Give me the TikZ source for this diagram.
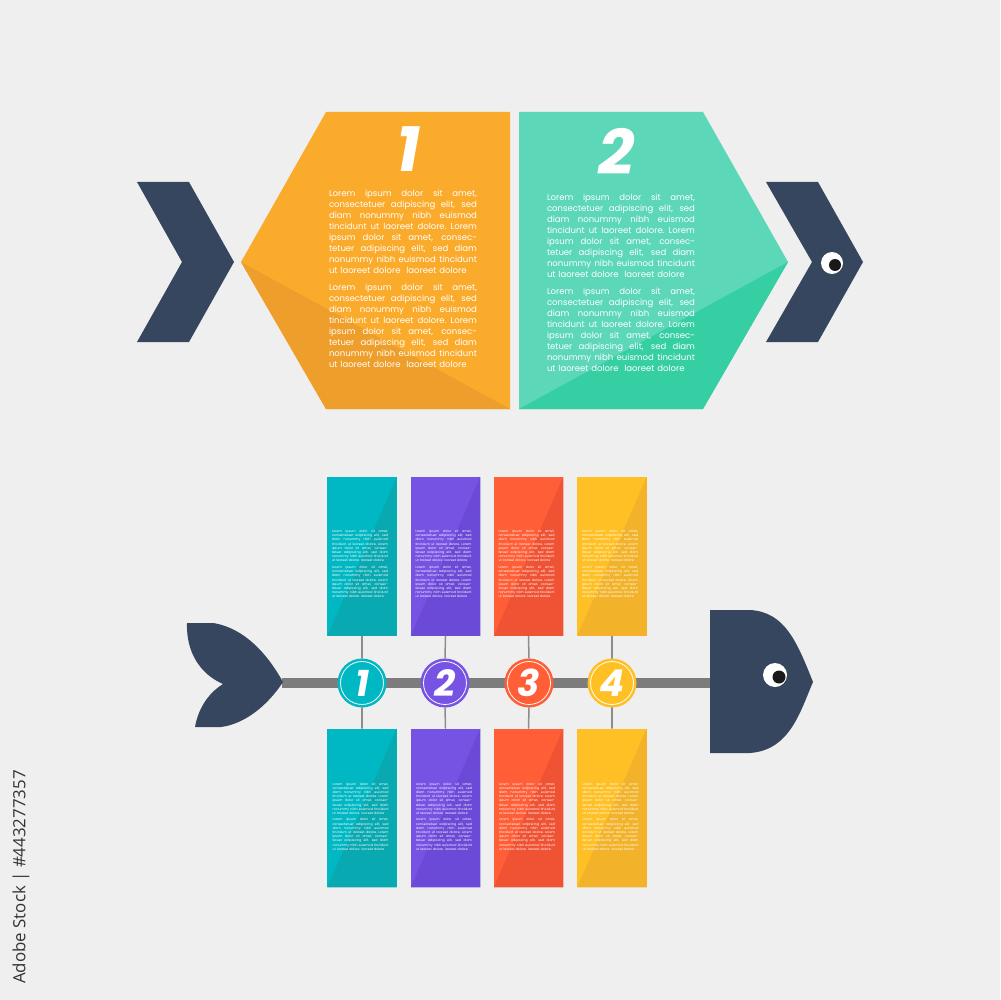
\documentclass[tikz,border=0pt]{standalone}
\usepackage{fontspec}
\setmainfont{Poppins}
\newfontfamily\idfont{Open Sans}
\usepackage{tikz}
\usetikzlibrary{positioning}
\definecolor{bgray}{HTML}{EFEFEF}
\definecolor{navy}{HTML}{36465E}
\definecolor{orangeA}{HTML}{FBAB2C}
\definecolor{orangeB}{HTML}{EE9E2A}
\definecolor{mintA}{HTML}{5CD7B8}
\definecolor{mintB}{HTML}{36CFA4}
\definecolor{tealA}{HTML}{00B8C4}
\definecolor{tealB}{HTML}{09A9B1}
\definecolor{violetA}{HTML}{7653E3}
\definecolor{violetB}{HTML}{6A4AD6}
\definecolor{redA}{HTML}{FF5E36}
\definecolor{redB}{HTML}{F05234}
\definecolor{yellowA}{HTML}{FFC025}
\definecolor{yellowB}{HTML}{F2B229}
\definecolor{spinegray}{HTML}{7C7C7C}
\definecolor{stemgray}{HTML}{8C8C8C}
\newlength{\blockw}
\newcommand{\jline}[1]{\leavevmode\hbox to \blockw{\spaceskip=0.26em plus 3em minus 0.06em\xspaceskip=\spaceskip\relax #1}\\}
\newcommand{\lorempara}{%
\jline{Lorem ipsum dolor sit amet,}
\jline{consectetuer adipiscing elit, sed}
\jline{diam nonummy nibh euismod}
\jline{tincidunt ut laoreet dolore. Lorem}
\jline{ipsum dolor sit amet, consec-}
\jline{tetuer adipiscing elit, sed diam}
\jline{nonummy nibh euismod tincidunt}
ut laoreet dolore\ \ laoreet dolore}
\newcommand{\loremblock}[1]{\setlength{\blockw}{#1}\lorempara\\[0.55\baselineskip]\lorempara}
\tikzset{
  bigtext/.style={text=white,inner sep=0pt,text width=2.96cm,align=left,font=\fontsize{4.85}{6.26}\selectfont},
  smalltext/.style={text=white,inner sep=0pt,text width=1.12cm,align=left,font=\fontsize{1.83}{2.39}\selectfont},
  bigdigit/.style={text=white,inner sep=0pt,text height=0.66em,text depth=0pt,font=\fontsize{36}{36}\selectfont\bfseries\itshape},
  panel/.style 2 args={rectangle,inner sep=0pt,minimum width=1.39cm,minimum height=3.18cm,fill=#1,
    path picture={\fill[#2] (path picture bounding box.north east) -- (path picture bounding box.south east) -- (path picture bounding box.south west) -- cycle;}},
  dot/.style={circle,inner sep=0pt,minimum size=0.98cm,fill=#1,text=white,font=\fontsize{21}{21}\selectfont\bfseries\itshape,
    path picture={\draw[white,line width=0.45pt] (path picture bounding box.center) circle (0.43cm);}},
  stem/.style={stemgray,line width=0.85pt},
  spine/.style={spinegray,line width=5.7pt}
}
\begin{document}
\begin{tikzpicture}[line cap=round,line join=round,x=0.02cm,y=-0.02cm]
\fill[bgray] (0,0) rectangle (1000,1000);
\useasboundingbox (0,0) rectangle (1000,1000);
\fill[navy] (137,182) -- (189,182) -- (234,262) -- (189,342) -- (137,342) -- (182,262) -- cycle;
\fill[orangeA] (241,262) -- (326,112) -- (510,112) -- (510,409) -- (326,409) -- cycle;
\fill[orangeB] (241,262) -- (510,409) -- (326,409) -- cycle;
\fill[mintA] (519,112) -- (703,112) -- (788,262) -- (703,409) -- (519,409) -- cycle;
\fill[mintB] (519,409) -- (788,262) -- (703,409) -- cycle;
\fill[navy] (766,182) -- (818,182) -- (863,262) -- (818,342) -- (766,342) -- (812,262) -- cycle;
\fill[white] (832,263) circle (0.22cm);
\fill[black!90] (835,265) circle (0.12cm);
\node[bigdigit] (numone) at (408,166) {1};
\node[bigdigit] (numtwo) at (617,169) {2};
\node[bigtext] (textone) at (403,279) {\loremblock{2.96cm}};
\node[bigtext] (texttwo) at (621,282.5) {\loremblock{2.96cm}};
\coordinate (tailtip) at (282,683);
\coordinate (headback) at (712,683);
\draw[spine,line cap=butt] (tailtip) -- (headback);
\fill[navy] (187,623) -- (213,623) .. controls (245,628) and (268,655) .. (283,682) .. controls (268,705) and (245,724) .. (221,727) -- (195,727) .. controls (198,710) and (207,694) .. (223,684) .. controls (200,674) and (186,652) .. cycle;
\fill[navy] (710,610) -- (750,610) .. controls (785,612) and (797,642) .. (813,682) .. controls (800,712) and (790,750) .. (750,753) -- (710,753) -- cycle;
\fill[white] (775,675) circle (0.24cm);
\fill[black!90] (779,677) circle (0.13cm);
\node[panel={tealA}{tealB}] (upone) at (362,556.5) {};
\node[panel={violetA}{violetB}] (uptwo) at (445.5,556.5) {};
\node[panel={redA}{redB}] (upthree) at (528.5,556.5) {};
\node[panel={yellowA}{yellowB}] (upfour) at (612,556.5) {};
\node[panel={tealA}{tealB}] (downone) at (362,808) {};
\node[panel={violetA}{violetB}] (downtwo) at (445.5,808) {};
\node[panel={redA}{redB}] (downthree) at (528.5,808) {};
\node[panel={yellowA}{yellowB}] (downfour) at (612,808) {};
\node[smalltext] (upnoteone) at (360,564) {\loremblock{1.12cm}};
\node[smalltext] (upnotetwo) at (443.5,564) {\loremblock{1.12cm}};
\node[smalltext] (upnotethree) at (526.5,564) {\loremblock{1.12cm}};
\node[smalltext] (upnotefour) at (610,564) {\loremblock{1.12cm}};
\node[smalltext] (downnoteone) at (360.5,816.5) {\loremblock{1.12cm}};
\node[smalltext] (downnotetwo) at (444,816.5) {\loremblock{1.12cm}};
\node[smalltext] (downnotethree) at (527,816.5) {\loremblock{1.12cm}};
\node[smalltext] (downnotefour) at (610.5,816.5) {\loremblock{1.12cm}};
\node[dot=tealA] (cone) at (362,683) {1};
\node[dot=violetA] (ctwo) at (445,683) {2};
\node[dot=redA] (cthree) at (529,683) {3};
\node[dot=yellowA] (cfour) at (612,683) {4};
\draw[stem] (upone.south) -- (cone.north);
\draw[stem] (uptwo.south) -- (ctwo.north);
\draw[stem] (upthree.south) -- (cthree.north);
\draw[stem] (upfour.south) -- (cfour.north);
\draw[stem] (cone.south) -- (downone.north);
\draw[stem] (ctwo.south) -- (downtwo.north);
\draw[stem] (cthree.south) -- (downthree.north);
\draw[stem] (cfour.south) -- (downfour.north);
\node[rotate=90,text=black!80,font=\idfont\fontsize{9.6}{11}\selectfont] (stockid) at (21,877) {Adobe Stock | \#443277357};
\end{tikzpicture}
\end{document}
